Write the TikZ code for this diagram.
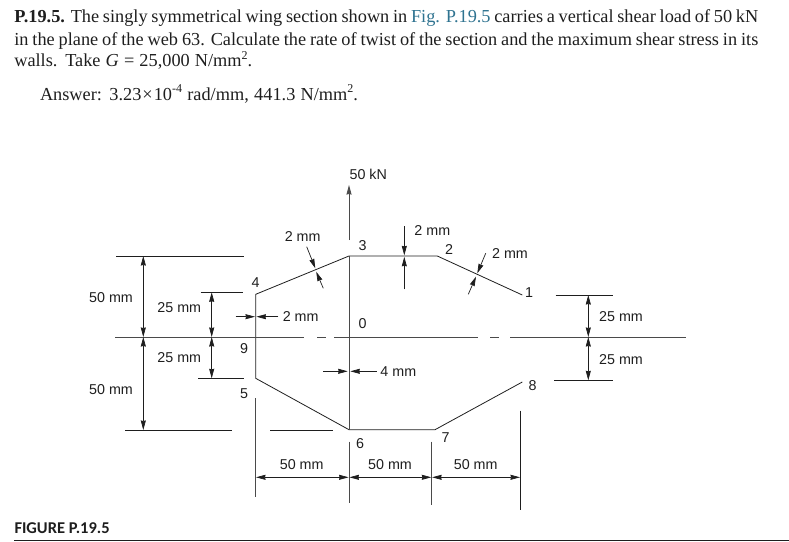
\documentclass[tikz,border=0pt]{standalone}
\usepackage{fontspec}
\setmainfont{Liberation Serif}
\setsansfont{Liberation Sans}
\newfontfamily\figfont{Carlito}
\usetikzlibrary{arrows.meta}
\definecolor{ink}{HTML}{1E1E1E}
\definecolor{linkblue}{HTML}{2F7390}
\definecolor{webgrey}{HTML}{4A4A4A}
\newcommand{\upr}[1]{\raisebox{0.42em}{\fontsize{12}{12}\selectfont #1}}
\newcommand{\bodyfont}{\fontsize{18.3}{22}\selectfont}
\tikzset{
  x=1pt,y=-1pt,
  bodyline/.style={anchor=base west,inner sep=0pt,outer sep=0pt,text=ink,font=\bodyfont},
  lab/.style={inner sep=0pt,outer sep=0pt,yshift=-0.5pt,text=ink,font=\sffamily\fontsize{14.3}{16}\selectfont},
  wall/.style={draw=ink,line width=0.8pt,line join=miter},
  thin line/.style={draw=ink,line width=0.7pt},
  greyline/.style={draw=webgrey,line width=0.8pt},
  dimtip/.style={-{Stealth[length=9.5pt,width=5pt,inset=0.5pt]}},
  dimboth/.style={{Stealth[length=9.5pt,width=5pt,inset=0.5pt]}-{Stealth[length=9.5pt,width=5pt,inset=0.5pt]}},
}
\begin{document}
\begin{tikzpicture}
\useasboundingbox (0,0) rectangle (789,541);
% --- text block
\node[bodyline] (l1) at (14.3,22.7) {\makebox[744pt][s]{\textbf{P.19.5.} The singly symmetrical wing section shown in \textcolor{linkblue}{Fig. P.19.5} carries a vertical shear load of 50 kN}};
\node[bodyline] (l2) at (14.3,45) {\makebox[744pt][s]{in the plane of the web 63. Calculate the rate of twist of the section and the maximum shear stress in its}};
\node[bodyline] (l3) at (14.3,66.7) {\makebox[238pt][s]{walls. Take \textit{G} = 25,000 N/mm\upr{2}.}};
\node[bodyline] (ans) at (40,100) {\makebox[318pt][s]{Answer: 3.23\hspace{1pt}×\hspace{1pt}10\upr{-4} rad/mm, 441.3 N/mm\upr{2}.}};
\node[anchor=base west,inner sep=0pt,text=ink,font=\figfont\bfseries\fontsize{16.5}{18}\selectfont] (figlab) at (14.3,533) {FIGURE P.19.5};
\coordinate (ruleL) at (14,540);
\coordinate (ruleR) at (789,540);
\draw[draw=ink,line width=1pt] (ruleL) -- (ruleR);
% --- section corners
\coordinate (p1) at (522.3,295);
\coordinate (p2) at (437.3,256);
\coordinate (p3) at (349,256);
\coordinate (p4) at (255.7,294.3);
\coordinate (p5) at (255.7,378.3);
\coordinate (p6) at (349,429.7);
\coordinate (p7) at (435,429.7);
\coordinate (p8) at (522.3,382);
\draw[wall] (p1) -- (p2) -- (p3) -- (p4) -- (p5) -- (p6) -- (p7) -- (p8);
\draw[greyline] (p3) -- (p6);
% --- centre line
\draw[greyline] (115,337) -- (304,337);
\draw[greyline] (317.3,337) -- (326,337);
\draw[greyline] (334,337) -- (478,337);
\draw[greyline] (490,337) -- (499.3,337);
\draw[greyline] (510,337) -- (686,337);
% --- load
\draw[greyline,dimtip] (349,240) -- (349,185);
\node[lab] (load) at (368.3,174) {50 kN};
% --- left extension lines and dimensions
\draw[thin line] (116,256) -- (244,256);
\draw[thin line] (200.7,292.3) -- (242.7,292.3);
\draw[thin line] (198.3,378.3) -- (244,378.3);
\draw[thin line] (125.3,430) -- (231.7,430);
\draw[thin line] (270,430) -- (333.3,430);
\draw[thin line,dimboth] (143.3,256) -- (143.3,337);
\draw[thin line,dimboth] (143.3,337) -- (143.3,430);
\draw[thin line,dimboth] (211.7,292.3) -- (211.7,337);
\draw[thin line,dimboth] (211.7,337) -- (211.7,378.3);
\node[lab] (d50a) at (111,297) {50 mm};
\node[lab] (d50b) at (111,389.3) {50 mm};
\node[lab] (d25a) at (179.3,307) {25 mm};
\node[lab] (d25b) at (179.3,356.7) {25 mm};
% --- wall thicknesses
\draw[thin line,dimtip] (235.7,316.7) -- (255,316.7);
\draw[thin line,dimtip] (278.3,316.7) -- (256.4,316.7);
\node[lab] (t4) at (300.7,316) {2 mm};
\draw[thin line,dimtip] (306.7,246.7) -- (315.3,268.3);
\draw[thin line,dimtip] (323.3,288.3) -- (316.2,271.7);
\node[lab] (t34) at (302.7,236) {2 mm};
\draw[thin line,dimtip] (404.3,226) -- (404.3,255.4);
\draw[thin line,dimtip] (404.3,289.3) -- (404.3,256.8);
\node[lab] (t23) at (432.3,230) {2 mm};
\draw[thin line,dimtip] (485.7,253.3) -- (477.3,273.3);
\draw[thin line,dimtip] (468.3,294.3) -- (476,276.6);
\node[lab] (t12) at (510,253) {2 mm};
\draw[thin line,dimtip] (323.3,371.3) -- (347.7,371.3);
\draw[thin line,dimtip] (376.7,371.3) -- (350.3,371.3);
\node[lab] (t36) at (398.3,371.3) {4 mm};
% --- right extension lines and dimensions
\draw[thin line] (555.7,295) -- (613.3,295);
\draw[thin line] (554,380.3) -- (613.3,380.3);
\draw[thin line,dimboth] (588.3,295) -- (588.3,337);
\draw[thin line,dimboth] (588.3,337) -- (588.3,380.3);
\node[lab] (d25c) at (621,316) {25 mm};
\node[lab] (d25d) at (621,359) {25 mm};
% --- bottom extension lines and dimensions
\draw[greyline] (255.7,398.3) -- (255.7,496.7);
\draw[greyline] (349,441.7) -- (349,502.7);
\draw[greyline] (431.7,441.7) -- (431.7,505);
\draw[thin line] (520.3,410.7) -- (520.3,510);
\draw[thin line,dimboth] (256,477.3) -- (348.6,477.3);
\draw[thin line,dimboth] (349.4,477.3) -- (431.3,477.3);
\draw[thin line,dimboth] (432.1,477.3) -- (520,477.3);
\node[lab] (b1) at (301.7,464.3) {50 mm};
\node[lab] (b2) at (390,464.3) {50 mm};
\node[lab] (b3) at (475.7,464.3) {50 mm};
% --- station numbers
\node[lab] (n0) at (362.7,322.7) {0};
\node[lab] (n1) at (529,292.3) {1};
\node[lab] (n2) at (449,249) {2};
\node[lab] (n3) at (362.7,245) {3};
\node[lab] (n4) at (255.7,281.7) {4};
\node[lab] (n5) at (244,392.7) {5};
\node[lab] (n6) at (360,442.7) {6};
\node[lab] (n7) at (445.7,436.7) {7};
\node[lab] (n8) at (532.7,385) {8};
\node[lab] (n9) at (244,348.3) {9};
\end{tikzpicture}
\end{document}
